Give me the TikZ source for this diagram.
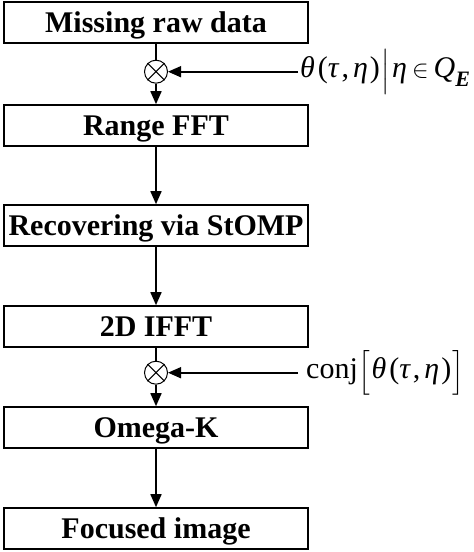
\documentclass[tikz,border=0pt]{standalone}
\usepackage{amsmath}
\usepackage{fontspec}
\setmainfont{Liberation Serif}
\usetikzlibrary{arrows.meta}
\tikzset{
  block/.style={draw, line width=1.6pt, minimum width=304pt, minimum height=41pt,
    inner sep=0pt, text height=20pt, text depth=0pt, font=\fontsize{30}{36}\selectfont\bfseries},
  mult/.style={draw, circle, line width=1pt, minimum size=23pt, inner sep=0pt},
  feed/.style={inner sep=2pt, anchor=west, font=\fontsize{30}{36}\selectfont},
  flow/.style={line width=1.6pt, -{Triangle[length=13pt,width=11pt]}},
  link/.style={line width=1.6pt},
}
\begin{document}
\begin{tikzpicture}[x=1pt,y=-1pt]
  \useasboundingbox (0,0) rectangle (474,552);
  \path
    (156,22.5) node[block] (raw){Missing raw data}
    (156,71.7) node[mult] (m1){}
    (156,125.5) node[block] (fft){Range FFT}
    (156,225.5) node[block] (stomp){Recovering via StOMP}
    (156,326.5) node[block] (ifft){2D IFFT}
    (156,372.7) node[mult] (m2){}
    (156,427.5) node[block] (wk){Omega-K}
    (156,528.5) node[block] (img){Focused image};
  \path
    (298,71.7) node[feed] (theta){\textit{θ}\hspace{3pt}(\textit{τ}\hspace{2pt},\hspace{4pt}\textit{η}\hspace{2pt})\hspace{2pt}$\Big|$\hspace{2pt}\textit{η}\hspace{5pt}$\in$\hspace{5pt}\textit{Q}\raisebox{-.3em}{\fontsize{22}{26}\selectfont\bfseries\itshape E}}
    (298,372.7) node[feed] (conj){\hspace{6pt}conj\hspace{1pt}$\Big[$\hspace{1pt}\textit{θ}\hspace{3pt}(\textit{τ}\hspace{2pt},\hspace{4pt}\textit{η}\hspace{2pt})\hspace{1pt}$\Big]$};
  % crosses in the multipliers
  \foreach \m in {m1,m2}
    \draw[line width=1pt] (\m.45) -- (\m.225) (\m.135) -- (\m.-45);
  \begin{scope}[flow]
    \draw[link,-] (raw) -- (m1);
    \draw (m1) -- (fft);
    \draw (fft) -- (stomp);
    \draw (stomp) -- (ifft);
    \draw[link,-] (ifft) -- (m2);
    \draw (m2) -- (wk);
    \draw (wk) -- (img);
    \draw (theta.west |- m1) -- (m1);
    \draw (conj.west |- m2) -- (m2);
  \end{scope}
\end{tikzpicture}
\end{document}
